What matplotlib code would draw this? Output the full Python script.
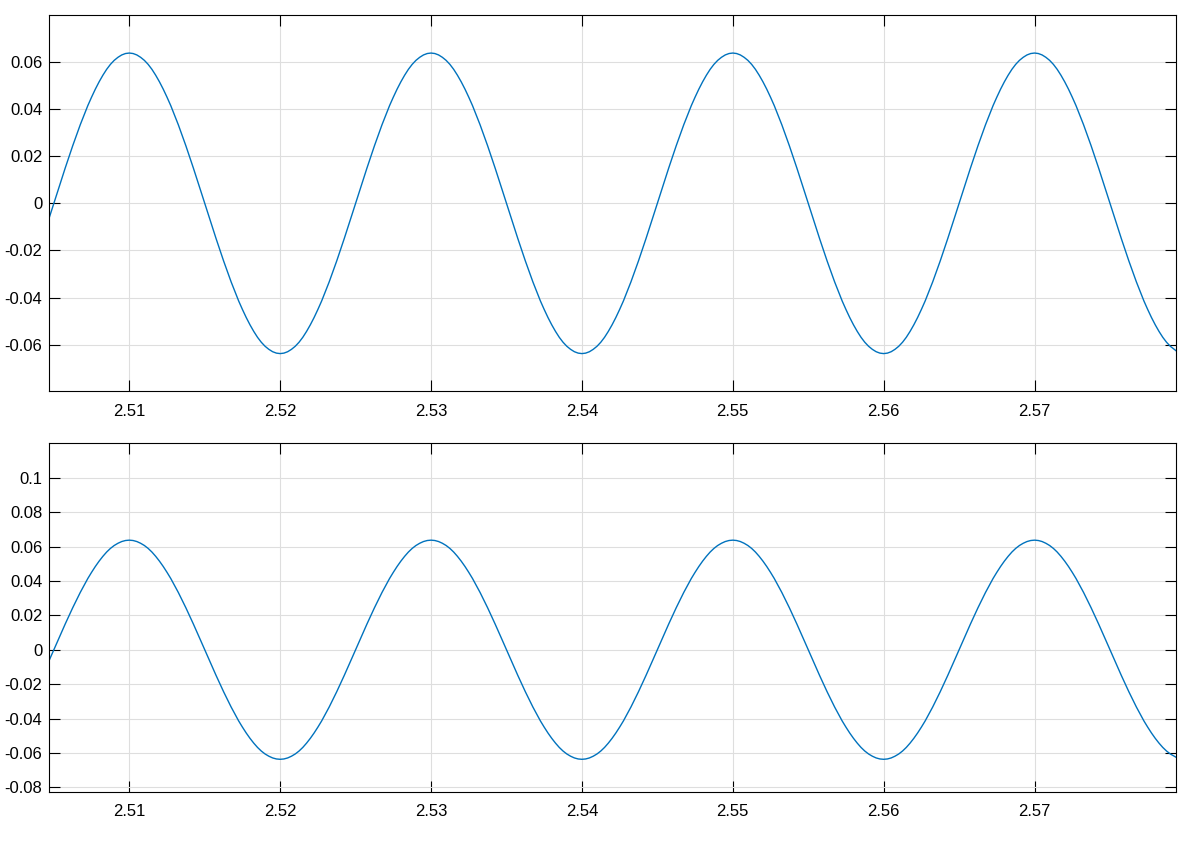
import numpy as np
import matplotlib
matplotlib.use("Agg")
import matplotlib.pyplot as plt
from matplotlib.ticker import FuncFormatter

plt.rcParams['font.family'] = ['Liberation Sans', 'DejaVu Sans']
plt.rcParams['axes.unicode_minus'] = False

# time axis (s): first sample, uniform 0.25 ms samples, last sample
t_start = [2.5047]
t_uniform = np.linspace(2.505, 2.579, 297)
t_end = [2.5794]
time = np.concatenate([t_start, t_uniform, t_end])

# signal (same waveform in both panels)
signal = [
    -0.0060,
    # 2.505 - 2.525
    0.0000, 0.0050, 0.0100, 0.0149, 0.0197, 0.0244, 0.0289, 0.0333, 0.0374, 0.0414,
    0.0450, 0.0484, 0.0515, 0.0543, 0.0568, 0.0589, 0.0606, 0.0619, 0.0629, 0.0635,
    0.0637, 0.0635, 0.0629, 0.0619, 0.0606, 0.0589, 0.0568, 0.0543, 0.0515, 0.0484,
    0.0450, 0.0414, 0.0374, 0.0333, 0.0289, 0.0244, 0.0197, 0.0149, 0.0100, 0.0050,
    0.0000, -0.0050, -0.0100, -0.0149, -0.0197, -0.0244, -0.0289, -0.0333, -0.0374, -0.0414,
    -0.0450, -0.0484, -0.0515, -0.0543, -0.0568, -0.0589, -0.0606, -0.0619, -0.0629, -0.0635,
    -0.0637, -0.0635, -0.0629, -0.0619, -0.0606, -0.0589, -0.0568, -0.0543, -0.0515, -0.0484,
    -0.0450, -0.0414, -0.0374, -0.0333, -0.0289, -0.0244, -0.0197, -0.0149, -0.0100, -0.0050,
    # 2.525 - 2.545
    0.0000, 0.0050, 0.0100, 0.0149, 0.0197, 0.0244, 0.0289, 0.0333, 0.0374, 0.0414,
    0.0450, 0.0484, 0.0515, 0.0543, 0.0568, 0.0589, 0.0606, 0.0619, 0.0629, 0.0635,
    0.0637, 0.0635, 0.0629, 0.0619, 0.0606, 0.0589, 0.0568, 0.0543, 0.0515, 0.0484,
    0.0450, 0.0414, 0.0374, 0.0333, 0.0289, 0.0244, 0.0197, 0.0149, 0.0100, 0.0050,
    0.0000, -0.0050, -0.0100, -0.0149, -0.0197, -0.0244, -0.0289, -0.0333, -0.0374, -0.0414,
    -0.0450, -0.0484, -0.0515, -0.0543, -0.0568, -0.0589, -0.0606, -0.0619, -0.0629, -0.0635,
    -0.0637, -0.0635, -0.0629, -0.0619, -0.0606, -0.0589, -0.0568, -0.0543, -0.0515, -0.0484,
    -0.0450, -0.0414, -0.0374, -0.0333, -0.0289, -0.0244, -0.0197, -0.0149, -0.0100, -0.0050,
    # 2.545 - 2.565
    0.0000, 0.0050, 0.0100, 0.0149, 0.0197, 0.0244, 0.0289, 0.0333, 0.0374, 0.0414,
    0.0450, 0.0484, 0.0515, 0.0543, 0.0568, 0.0589, 0.0606, 0.0619, 0.0629, 0.0635,
    0.0637, 0.0635, 0.0629, 0.0619, 0.0606, 0.0589, 0.0568, 0.0543, 0.0515, 0.0484,
    0.0450, 0.0414, 0.0374, 0.0333, 0.0289, 0.0244, 0.0197, 0.0149, 0.0100, 0.0050,
    0.0000, -0.0050, -0.0100, -0.0149, -0.0197, -0.0244, -0.0289, -0.0333, -0.0374, -0.0414,
    -0.0450, -0.0484, -0.0515, -0.0543, -0.0568, -0.0589, -0.0606, -0.0619, -0.0629, -0.0635,
    -0.0637, -0.0635, -0.0629, -0.0619, -0.0606, -0.0589, -0.0568, -0.0543, -0.0515, -0.0484,
    -0.0450, -0.0414, -0.0374, -0.0333, -0.0289, -0.0244, -0.0197, -0.0149, -0.0100, -0.0050,
    # 2.565 - 2.579
    0.0000, 0.0050, 0.0100, 0.0149, 0.0197, 0.0244, 0.0289, 0.0333, 0.0374, 0.0414,
    0.0450, 0.0484, 0.0515, 0.0543, 0.0568, 0.0589, 0.0606, 0.0619, 0.0629, 0.0635,
    0.0637, 0.0635, 0.0629, 0.0619, 0.0606, 0.0589, 0.0568, 0.0543, 0.0515, 0.0484,
    0.0450, 0.0414, 0.0374, 0.0333, 0.0289, 0.0244, 0.0197, 0.0149, 0.0100, 0.0050,
    0.0000, -0.0050, -0.0100, -0.0149, -0.0197, -0.0244, -0.0289, -0.0333, -0.0374, -0.0414,
    -0.0450, -0.0484, -0.0515, -0.0543, -0.0568, -0.0589, -0.0606,
    -0.0626,
]

x_ticks = [2.51, 2.52, 2.53, 2.54, 2.55, 2.56, 2.57]
top_y_ticks = [-0.06, -0.04, -0.02, 0, 0.02, 0.04, 0.06]
bottom_y_ticks = [-0.08, -0.06, -0.04, -0.02, 0, 0.02, 0.04, 0.06, 0.08, 0.1]

fig = plt.figure(figsize=(12, 8.55), dpi=100)
ax1 = fig.add_axes([0.0411, 0.5423, 0.9392, 0.4398])
ax2 = fig.add_axes([0.0411, 0.0737, 0.9392, 0.4082])

fmt = FuncFormatter(lambda v, pos: '%g' % round(v, 4))

for ax, yticks, ylim in [(ax1, top_y_ticks, (-0.0797, 0.0797)),
                         (ax2, bottom_y_ticks, (-0.0827, 0.1202))]:
    ax.plot(time, signal, color='#0072BD', linewidth=1.0)
    ax.set_xlim(2.5047, 2.5794)
    ax.set_ylim(*ylim)
    ax.set_xticks(x_ticks)
    ax.set_yticks(yticks)
    ax.xaxis.set_major_formatter(fmt)
    ax.yaxis.set_major_formatter(fmt)
    ax.grid(True, color='#dedede', linewidth=0.8)
    ax.set_axisbelow(True)
    ax.tick_params(direction='in', length=8, width=0.8, top=True, right=True,
                   labelsize=12, colors='black')
    ax.tick_params(axis='x', pad=9)
    ax.tick_params(axis='y', pad=5)
    for s in ax.spines.values():
        s.set_linewidth(0.8)

fig.savefig('out.png', dpi=100)
